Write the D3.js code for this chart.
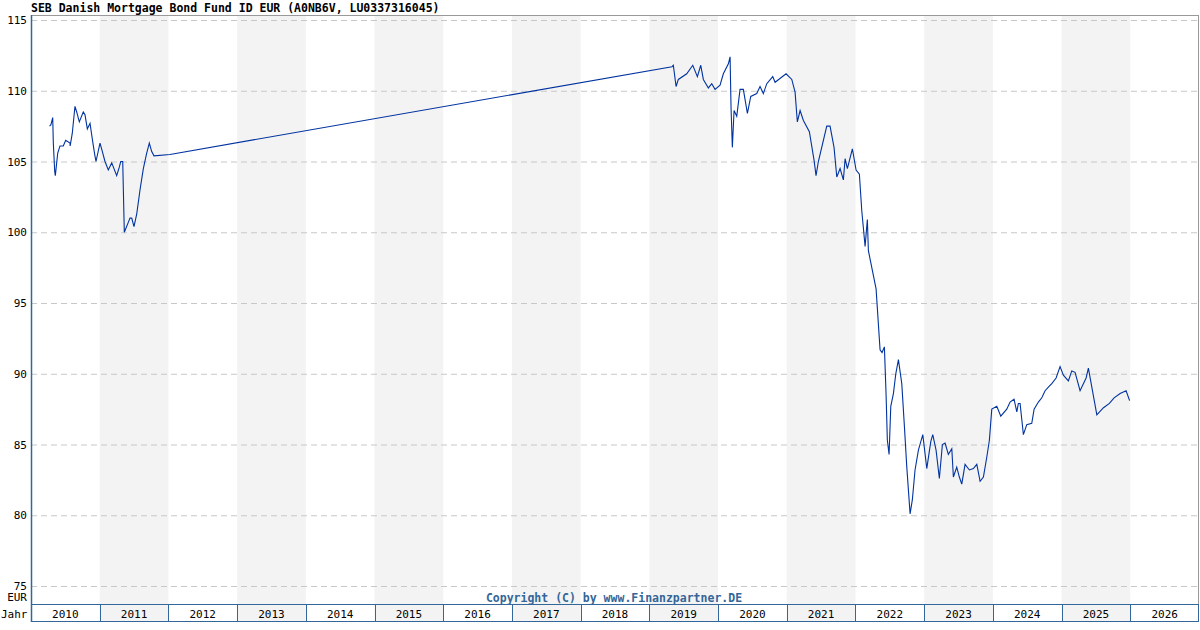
<!DOCTYPE html>
<html><head><meta charset="utf-8">
<script src="https://cdn.jsdelivr.net/npm/d3@7"></script>
<style>body{margin:0;background:#fff}svg{display:block}text{font-family:"DejaVu Sans Mono",monospace}</style>
</head><body><svg id="c" width="1200" height="630"></svg>
<script>
const title = "SEB Danish Mortgage Bond Fund ID EUR (A0NB6V, LU0337316045)";
const years = d3.range(2010, 2027);
const yTicks = [75, 80, 85, 90, 95, 100, 105, 110, 115];
const dates = [2010.27,2010.29,2010.316,2010.325,2010.345,2010.354,2010.389,2010.422,2010.47,2010.505,2010.568,2010.57,2010.601,2010.64,2010.665,2010.703,2010.761,2010.786,2010.82,2010.859,2010.898,2010.927,2010.946,2011.004,2011.033,2011.077,2011.125,2011.175,2011.247,2011.285,2011.306,2011.335,2011.358,2011.416,2011.441,2011.466,2011.499,2011.539,2011.587,2011.635,2011.684,2011.722,2011.757,2011.79,2012.023,
2019.33,2019.349,2019.389,2019.422,2019.544,2019.632,2019.699,2019.748,2019.786,2019.859,2019.908,2019.956,2020.029,2020.077,2020.15,2020.175,2020.189,2020.208,2020.233,2020.272,2020.32,2020.368,2020.427,2020.476,2020.563,2020.611,2020.659,2020.709,2020.796,2020.83,2020.99,2021.073,2021.121,2021.154,2021.194,2021.242,2021.329,2021.397,2021.426,2021.46,2021.582,2021.63,2021.688,2021.728,2021.776,2021.824,2021.849,2021.882,2021.955,2022.009,2022.057,2022.092,2022.14,2022.173,2022.188,2022.3,2022.358,2022.387,2022.421,2022.445,2022.464,2022.489,2022.514,2022.552,2022.587,2022.625,2022.674,2022.712,2022.747,2022.795,2022.828,2022.867,2022.916,2022.98,2023.038,2023.096,2023.125,2023.173,2023.221,2023.265,2023.304,2023.352,2023.402,2023.425,2023.474,2023.512,2023.547,2023.595,2023.658,2023.716,2023.766,2023.814,2023.862,2023.911,2023.949,2023.984,2024.057,2024.115,2024.202,2024.25,2024.308,2024.348,2024.371,2024.396,2024.444,2024.493,2024.566,2024.6,2024.662,2024.712,2024.76,2024.818,2024.857,2024.92,2024.978,2025.026,2025.099,2025.148,2025.196,2025.269,2025.357,2025.39,2025.513,2025.61,2025.696,2025.764,2025.852,2025.939,2025.99];
const values = [107.5,107.6,108.1,106.3,104.3,104.0,105.6,106.1,106.1,106.5,106.3,106.1,107.0,108.9,108.5,107.8,108.5,108.3,107.3,107.7,106.4,105.5,105.0,106.3,105.8,105.0,104.4,104.9,104.0,104.6,105.0,105.0,100.0,100.7,101.0,101.0,100.4,101.3,103.0,104.5,105.6,106.3,105.7,105.4,105.5,
111.7,111.8,110.3,110.8,111.2,111.8,111.0,111.8,110.8,110.2,110.5,110.1,110.4,111.2,111.9,112.4,108.8,106.0,108.6,108.2,110.1,110.1,108.4,109.6,109.8,110.3,109.8,110.5,111.0,110.6,111.2,110.8,109.9,107.8,108.6,107.9,107.1,105.1,104.0,105.0,107.5,107.5,106.0,103.9,104.5,103.7,105.2,104.5,105.9,104.4,104.1,101.5,99.0,100.9,98.7,96.0,91.7,91.5,91.9,88.6,85.3,84.3,87.7,88.6,90.0,91.0,89.3,86.3,83.4,80.1,81.1,83.2,84.6,85.7,83.3,85.2,85.7,84.6,82.6,85.0,85.1,84.3,84.7,82.7,83.4,82.7,82.2,83.6,83.2,83.3,83.6,82.4,82.7,84.1,85.3,87.5,87.7,87.0,87.5,88.0,88.2,87.3,87.9,87.9,85.7,86.4,86.5,87.5,88.0,88.3,88.8,89.1,89.3,89.7,90.5,89.9,89.5,90.2,90.1,88.8,89.7,90.4,87.1,87.6,87.9,88.3,88.6,88.8,88.1,88.5];

const svg = d3.select("#c");
const L=31, R=1199, T=15, B=604;
const x = d3.scaleLinear().domain([2010, 2027]).range([L, R]);
const y = d3.scaleLinear().domain([75, 115]).range([586, 20]);

// shaded bands
svg.selectAll("rect.band").data(years.filter(v => v % 2 === 1)).enter().append("rect")
  .attr("x", d => x(d)).attr("y", T).attr("width", d => x(d+1)-x(d)).attr("height", 622-T).attr("fill", "#f3f3f3");
// gridlines
svg.selectAll("line.g").data(yTicks).enter().append("line")
  .attr("x1", L).attr("x2", R).attr("y1", d => y(d)+0.5).attr("y2", d => y(d)+0.5)
  .attr("stroke", "#c8c8c8").attr("stroke-dasharray", "6,4");
// frame
svg.append("rect").attr("x", L+0.5).attr("y", T+0.5).attr("width", R-L-1).attr("height", B-T).attr("fill","none").attr("stroke","#999");
svg.append("line").attr("x1",L+0.5).attr("x2",L+0.5).attr("y1",T).attr("y2",622).attr("stroke","#336699").attr("stroke-width",1.5);
// year axis row
svg.append("rect").attr("x", L+0.5).attr("y", 604.5).attr("width", R-L-1).attr("height", 17).attr("fill","none").attr("stroke","#336699");
svg.selectAll("line.yd").data(years.slice(1)).enter().append("line")
  .attr("x1", d => Math.round(x(d))+0.5).attr("x2", d => Math.round(x(d))+0.5).attr("y1",604).attr("y2",622).attr("stroke","#336699");
svg.selectAll("text.yr").data(years).enter().append("text")
  .attr("x", d => x(d+0.5)).attr("y", 618).attr("text-anchor","middle").attr("font-size",11).text(d => d);
// y labels
svg.selectAll("text.yl").data(yTicks).enter().append("text")
  .attr("x", 27).attr("y", d => y(d)+4).attr("text-anchor","end").attr("font-size",11).text(d => d);
svg.append("text").attr("x",27).attr("y",601).attr("text-anchor","end").attr("font-size",11).text("EUR");
svg.append("text").attr("x",1).attr("y",618).attr("font-size",11).text("Jahr");
// title
svg.append("text").attr("x",31).attr("y",12).attr("font-size",11.5).attr("font-weight","bold").text(title);
svg.append("text").attr("x",614).attr("y",602).attr("text-anchor","middle").attr("font-size",11.5).attr("font-weight","bold").attr("fill","#336699").text("Copyright (C) by www.Finanzpartner.DE");
// line
const pts = dates.map((d,i) => [d, values[i]]);
svg.append("path").datum(pts).attr("fill","none").attr("stroke","#0033a0").attr("stroke-width",1.1)
  .attr("d", d3.line().x(d => x(d[0])).y(d => y(d[1])));
</script></body></html>
